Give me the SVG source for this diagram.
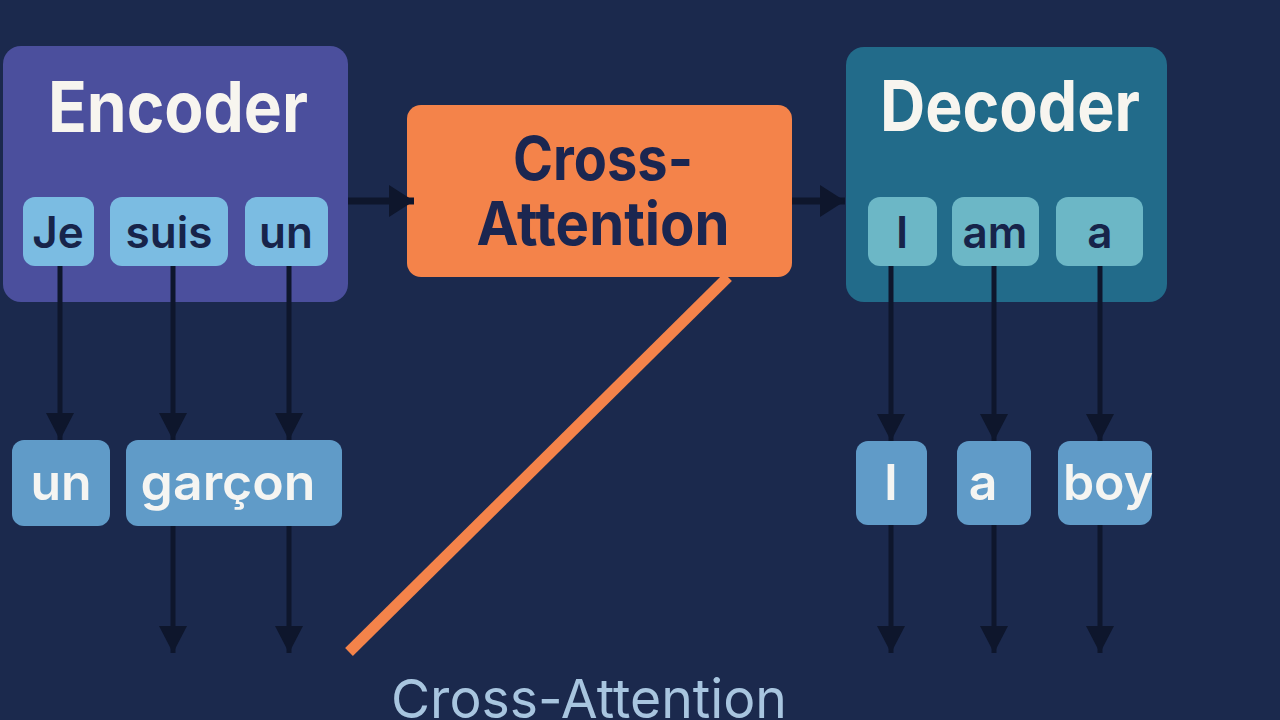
<svg xmlns="http://www.w3.org/2000/svg" width="1280" height="720" viewBox="0 0 1280 720">
<defs>
<style>
.title{font-family:Inter,"Noto Sans",sans-serif;font-weight:700;fill:#f7f5ef;text-anchor:middle}
.tokd{font-family:Inter,"Noto Sans",sans-serif;font-weight:600;fill:#17244a;text-anchor:middle;font-size:44px}
.tokw{font-family:Inter,"Noto Sans",sans-serif;font-weight:600;fill:#f5f5f2;text-anchor:middle;font-size:50px}
.cross{font-family:Inter,"Noto Sans",sans-serif;font-weight:700;fill:#1b2650;text-anchor:middle;font-size:60px}
.cap{font-family:Inter,"Noto Sans",sans-serif;font-weight:400;fill:#a8c5df;font-size:54px}
.v{stroke:#0e162c;stroke-width:5;fill:none}
.h{stroke:#0e162c;stroke-width:7;fill:none}
</style>
<marker id="av" markerUnits="userSpaceOnUse" markerWidth="28" markerHeight="28" refX="27" refY="14" orient="auto"><path d="M0,0 L27,14 L0,28 Z" fill="#0e162c"/></marker>
<marker id="ah" markerUnits="userSpaceOnUse" markerWidth="26" markerHeight="32" refX="25" refY="16" orient="auto"><path d="M0,0 L25,16 L0,32 Z" fill="#0e162c"/></marker>
</defs>
<rect width="1280" height="720" fill="#1b294d"/>

<g id="encoder">
<rect x="3" y="46" width="345" height="256" rx="18" fill="#4b4f9d"/>
<text class="title" x="178" y="132" font-size="70" textLength="260" lengthAdjust="spacingAndGlyphs">Encoder</text>
</g>
<g id="tok-je"><rect x="23" y="197" width="71" height="69" rx="12" fill="#7bbce2"/><text class="tokd" x="58" y="248">Je</text></g>
<g id="tok-suis"><rect x="110" y="197" width="118" height="69" rx="12" fill="#7bbce2"/><text class="tokd" x="169" y="248">suis</text></g>
<g id="tok-un"><rect x="245" y="197" width="83" height="69" rx="12" fill="#7bbce2"/><text class="tokd" x="286" y="248">un</text></g>

<g id="cross-attention">
<rect x="407" y="105" width="385" height="172" rx="14" fill="#f4834a"/>
<text class="cross" x="603" y="180" textLength="180" lengthAdjust="spacingAndGlyphs">Cross-</text>
<text class="cross" x="603" y="245" textLength="253" lengthAdjust="spacingAndGlyphs">Attention</text>
</g>

<g id="decoder">
<rect x="846" y="47" width="321" height="255" rx="18" fill="#226b8a"/>
<text class="title" x="1010" y="131" font-size="70" textLength="260" lengthAdjust="spacingAndGlyphs">Decoder</text>
</g>
<g id="tok-i"><rect x="868" y="197" width="69" height="69" rx="12" fill="#6cb7c6"/><text class="tokd" x="902" y="248">I</text></g>
<g id="tok-am"><rect x="952" y="197" width="87" height="69" rx="12" fill="#6cb7c6"/><text class="tokd" x="995" y="248">am</text></g>
<g id="tok-a"><rect x="1056" y="197" width="87" height="69" rx="12" fill="#6cb7c6"/><text class="tokd" x="1100" y="248">a</text></g>

<g id="out-un"><rect x="12" y="440" width="98" height="86" rx="12" fill="#609bc8"/><text class="tokw" x="61" y="500">un</text></g>
<g id="out-garcon"><rect x="126" y="440" width="216" height="86" rx="12" fill="#609bc8"/><text class="tokw" x="228" y="500" textLength="175" lengthAdjust="spacingAndGlyphs">garçon</text></g>
<g id="out-i"><rect x="856" y="441" width="71" height="84" rx="12" fill="#609bc8"/><text class="tokw" x="891" y="500">I</text></g>
<g id="out-a"><rect x="957" y="441" width="74" height="84" rx="12" fill="#609bc8"/><text class="tokw" x="983" y="500">a</text></g>
<g id="out-boy"><rect x="1058" y="441" width="94" height="84" rx="12" fill="#609bc8"/><text class="tokw" x="1108" y="500">boy</text></g>

<g id="connectors">
<line class="h" x1="348" y1="201" x2="414" y2="201" marker-end="url(#ah)"/>
<line class="h" x1="792" y1="201" x2="845" y2="201" marker-end="url(#ah)"/>
<line class="v" x1="60" y1="266" x2="60" y2="440" marker-end="url(#av)"/>
<line class="v" x1="173" y1="266" x2="173" y2="440" marker-end="url(#av)"/>
<line class="v" x1="289" y1="266" x2="289" y2="440" marker-end="url(#av)"/>
<line class="v" x1="173" y1="526" x2="173" y2="653" marker-end="url(#av)"/>
<line class="v" x1="289" y1="526" x2="289" y2="653" marker-end="url(#av)"/>
<line class="v" x1="891" y1="266" x2="891" y2="441" marker-end="url(#av)"/>
<line class="v" x1="994" y1="266" x2="994" y2="441" marker-end="url(#av)"/>
<line class="v" x1="1100" y1="266" x2="1100" y2="441" marker-end="url(#av)"/>
<line class="v" x1="891" y1="525" x2="891" y2="653" marker-end="url(#av)"/>
<line class="v" x1="994" y1="525" x2="994" y2="653" marker-end="url(#av)"/>
<line class="v" x1="1100" y1="525" x2="1100" y2="653" marker-end="url(#av)"/>
<line x1="728" y1="277" x2="349" y2="652" stroke="#f4834a" stroke-width="11"/>
</g>

<text class="cap" x="391" y="718" textLength="396" lengthAdjust="spacingAndGlyphs">Cross-Attention</text>
</svg>
